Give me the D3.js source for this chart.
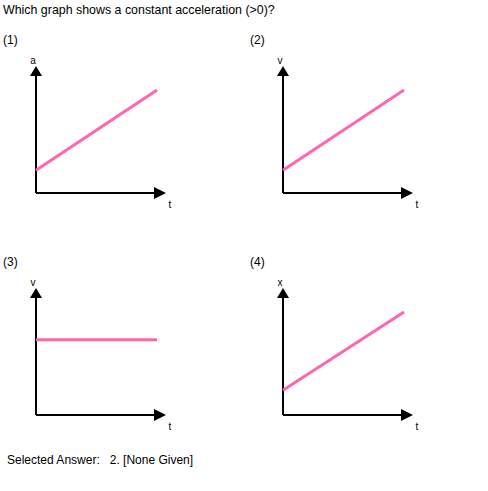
<!DOCTYPE html>
<html><head><meta charset="utf-8">
<script src="https://cdn.jsdelivr.net/npm/d3@7"></script>
<style>body{margin:0;background:#fff}text{font-family:"Liberation Sans",Arial,sans-serif;font-size:12px;fill:#000;white-space:pre}</style>
</head><body>
<svg width="488" height="491"></svg>
<script>
// one entry per small graph
var panelLabels = ['(1)', '(2)', '(3)', '(4)'];
var yAxisLabels = ['a', 'v', 'v', 'x'];
var startValues = [0.22, 0.22, 0.73, 0.24];
var endValues = [1, 1, 0.73, 1];

var svg = d3.select('svg');
svg.append('text').attr('x', 3).attr('y', 14).style('font-size', '12.4px').text('Which graph shows a constant acceleration (>0)?');
svg.append('text').attr('x', 7).attr('y', 464).attr('xml:space', 'preserve').text('Selected Answer:   2. [None Given]');

var x = d3.scaleLinear().domain([0, 1]).range([0, 121]);
var y = d3.scaleLinear().domain([0, 1]).range([0, -103]);

var offsets = [[0, 0], [247, 0], [0, 222], [247, 222]];

panelLabels.forEach(function(lbl, i) {
    var g = svg.append('g').attr('transform', 'translate(' + (36 + offsets[i][0]) + ',' + (193 + offsets[i][1]) + ')');
    svg.append('text').attr('x', 3 + offsets[i][0]).attr('y', 44 + offsets[i][1]).text(lbl);
    g.append('line').attr('x1', 0).attr('y1', 0).attr('x2', 0).attr('y2', -118).attr('stroke', '#000').attr('stroke-width', 2);
    g.append('line').attr('x1', 0).attr('y1', 0).attr('x2', 120).attr('y2', 0).attr('stroke', '#000').attr('stroke-width', 2);
    g.append('path').attr('d', 'M-6,-117L0,-127L6,-117Z').attr('fill', '#000');
    g.append('path').attr('d', 'M118,-6L130,0L118,6Z').attr('fill', '#000');
    g.append('text').attr('x', -3).attr('y', -129).attr('text-anchor', 'middle').style('font-size', '10px').text(yAxisLabels[i]);
    g.append('text').attr('x', 134).attr('y', 15).attr('text-anchor', 'middle').style('font-size', '10px').text('t');
    g.append('line')
        .attr('x1', x(0)).attr('y1', y(startValues[i]))
        .attr('x2', x(1)).attr('y2', y(endValues[i]))
        .attr('stroke', '#ff66b2').attr('stroke-width', 3);
});
</script>
</body></html>
